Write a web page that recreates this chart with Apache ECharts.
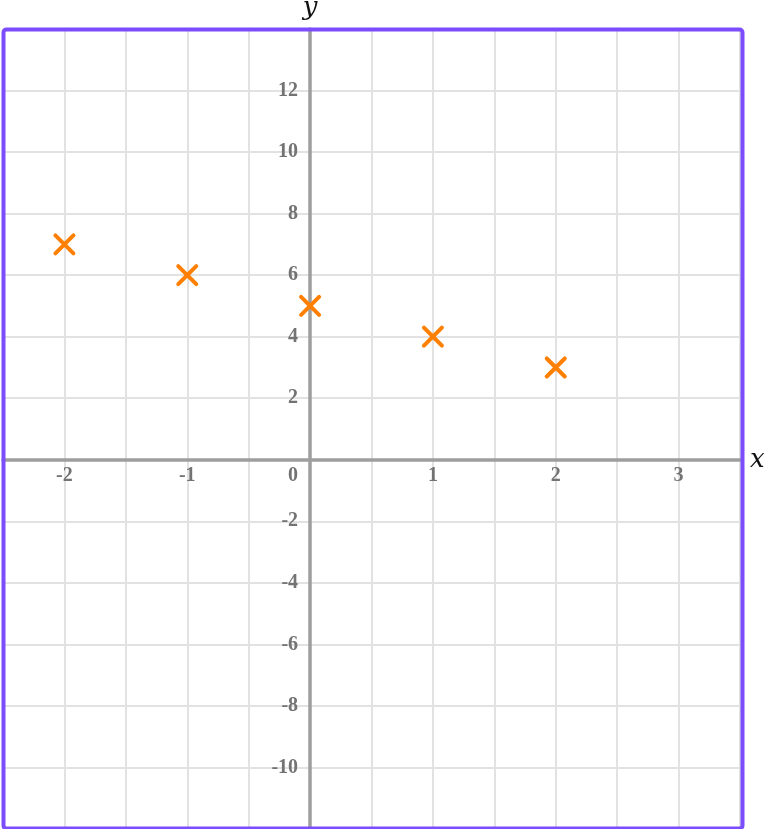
<!DOCTYPE html>
<html>
<head>
<meta charset="utf-8">
<script src="https://cdn.jsdelivr.net/npm/echarts@6/dist/echarts.min.js"></script>
<style>
  html, body { margin: 0; padding: 0; background: #fff; }
  #chart { width: 768px; height: 829px; }
</style>
</head>
<body>
<div id="chart"></div>
<script>
// points
var xs = [-2, -1, 0, 1, 2];
var ys = [7, 6, 5, 4, 3];

var xMin = -2.5, xMax = 3.5, xStep = 0.5;
var yMin = -12, yMax = 14, yStep = 2;

var points = [];
xs.map((x, i) => {
    points.push([x, ys[i]]);
});

var gLeft = 3, gTop = 29, gWidth = 737, gHeight = 800;
// move the axes onto the zero lines (labels too)
var yAxisShift = -gWidth * (0 - xMin) / (xMax - xMin);
var xAxisShift = -gHeight * (0 - yMin) / (yMax - yMin);

var chartDom = document.getElementById('chart');
var myChart = echarts.init(chartDom);
var option;

var labelFont = {
    fontFamily: 'Liberation Serif',
    fontWeight: 'bold',
    fontSize: 20,
    color: '#737373'
};

option = {
    animation: false,
    grid: {
        left: gLeft,
        top: gTop,
        width: gWidth,
        height: gHeight,
        outerBoundsMode: 'none',
        containLabel: false,
        show: false
    },
    graphic: [
        {
            type: 'rect',
            left: 1,
            top: 27,
            shape: { width: 739, height: 799, r: 3 },
            style: { fill: 'none', stroke: '#7c4dff', lineWidth: 4 },
            z: 100
        }
    ],
    xAxis: {
        type: 'value',
        min: xMin,
        max: xMax,
        interval: xStep,
        offset: xAxisShift,
        name: 'x',
        nameLocation: 'end',
        nameGap: 10,
        nameTextStyle: {
            fontFamily: 'DejaVu Serif',
            fontStyle: 'italic',
            fontSize: 26,
            color: '#111'
        },
        axisLine: { onZero: false, lineStyle: { color: '#9e9e9e', width: 3.5 } },
        axisTick: { show: false },
        splitLine: { lineStyle: { color: '#e2e2e2', width: 2 } },
        axisLabel: Object.assign({
            margin: 6,
            showMinLabel: false,
            showMaxLabel: false,
            formatter: function (v) {
                if (Math.abs(v - Math.round(v)) > 1e-6) return '';
                if (v === 0) return '{z|0}';
                return String(v);
            },
            rich: {
                z: Object.assign({ padding: [0, 34, 0, 0] }, labelFont)
            }
        }, labelFont)
    },
    yAxis: {
        type: 'value',
        min: yMin,
        max: yMax,
        interval: yStep,
        offset: yAxisShift,
        name: 'y',
        nameLocation: 'end',
        nameGap: 8,
        nameTextStyle: {
            fontFamily: 'DejaVu Serif',
            fontStyle: 'italic',
            fontSize: 26,
            color: '#111'
        },
        axisLine: { onZero: false, lineStyle: { color: '#9e9e9e', width: 3.5 } },
        axisTick: { show: false },
        splitLine: { lineStyle: { color: '#e2e2e2', width: 2 } },
        axisLabel: Object.assign({
            margin: 12,
            showMinLabel: false,
            showMaxLabel: false,
            formatter: function (v) {
                if (v === 0) return '';
                return String(v);
            }
        }, labelFont)
    },
    series: [
        {
            type: 'scatter',
            data: points,
            symbol: 'path://M0,0L10,10M10,0L0,10',
            symbolSize: 18,
            itemStyle: {
                color: 'none',
                borderColor: '#ff7f00',
                borderWidth: 4,
                borderCap: 'round',
                opacity: 1
            },
            z: 10
        }
    ]
};

option && myChart.setOption(option);
</script>
</body>
</html>
